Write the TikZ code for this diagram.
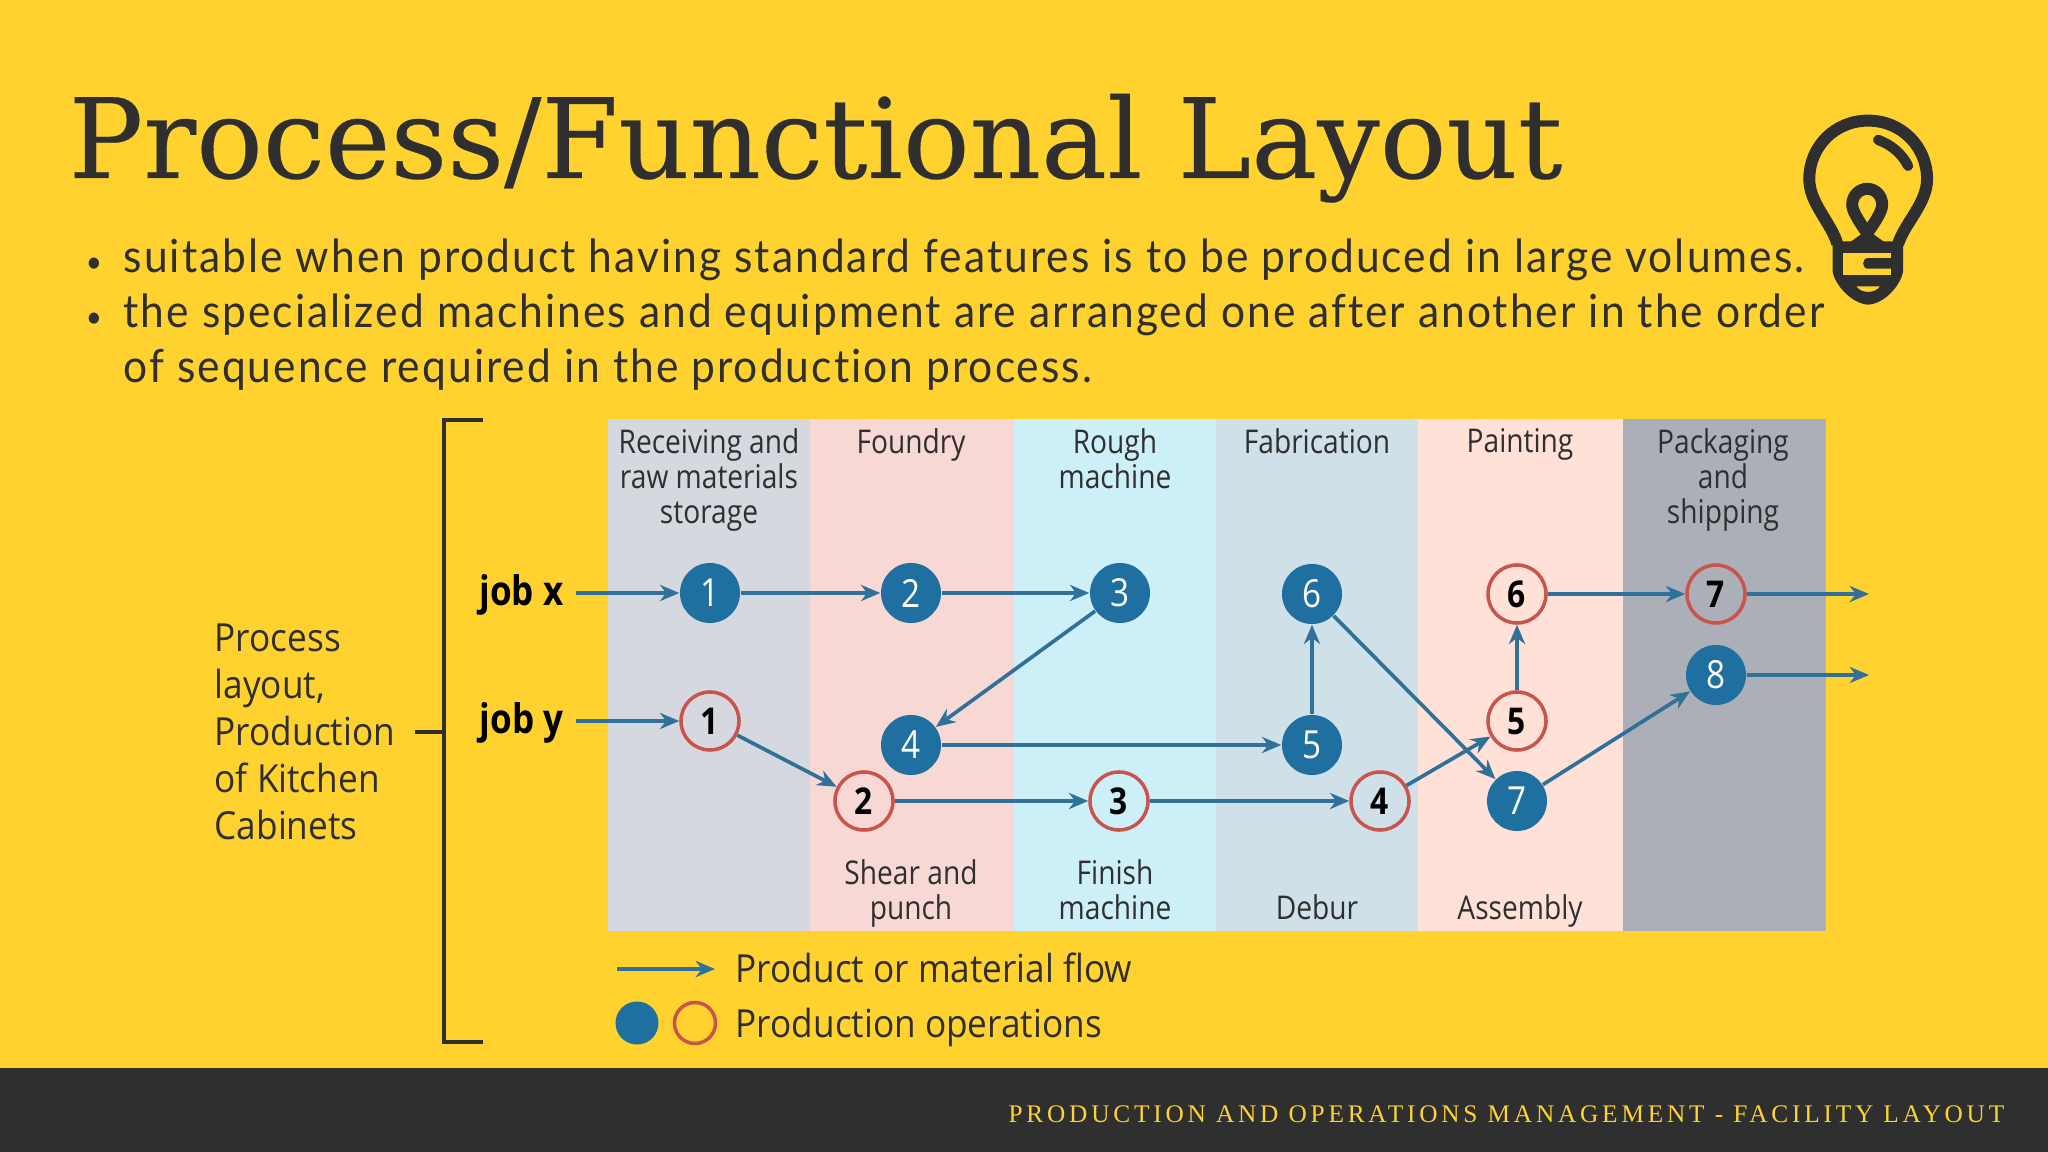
\documentclass[tikz,border=0pt]{standalone}
\usepackage{fontspec}
\usetikzlibrary{arrows.meta}
\setmainfont{Open Sans}
\newfontfamily\titlefont[FakeBold=0.25]{DejaVu Serif}
\newfontfamily\bulletfont[LetterSpace=4.45,FakeStretch=0.93,Ligatures=NoCommon]{Lato}
\newfontfamily\footfont[LetterSpace=15.0]{Liberation Serif}
\newfontfamily\chartfont[FakeStretch=0.86]{Open Sans}
\newfontfamily\sidefont[FakeStretch=0.91]{Open Sans}
\definecolor{slidebg}{HTML}{FFD22F}
\definecolor{slidedark}{HTML}{2F2F2F}
\definecolor{flowblue}{HTML}{2F7199}
\definecolor{opblue}{HTML}{1F70A0}
\definecolor{opred}{HTML}{C9544C}
\definecolor{laneA}{HTML}{D5D8DE}
\definecolor{laneB}{HTML}{F7D8D4}
\definecolor{laneC}{HTML}{CDEFF8}
\definecolor{laneD}{HTML}{CFE0E9}
\definecolor{laneE}{HTML}{FFE1D8}
\definecolor{laneF}{HTML}{ADAFB8}
\tikzset{
	lanelabel/.style={font=\chartfont\fontsize{9.3}{9.95}\selectfont, text=slidedark, align=center, inner sep=0pt, anchor=north},
	sidelabel/.style={font=\sidefont\fontsize{11}{13.4}\selectfont, text=slidedark, align=left, inner sep=0pt},
	joblabel/.style={font=\chartfont\bfseries\fontsize{11.6}{13}\selectfont, text=black, inner sep=3.4pt, anchor=east, text depth=1.5pt},
	opfull/.style={circle, fill=opblue, minimum size=0.6cm, inner sep=0pt, text=white, font=\chartfont\fontsize{11}{12}\selectfont},
	opring/.style={circle, draw=opred, line width=1pt, minimum size=0.58cm, inner sep=0pt, text=black, font=\chartfont\bfseries\fontsize{10.5}{12}\selectfont},
	flow/.style={draw=flowblue, line width=1.05pt, -{Stealth[length=5.5pt,width=4.6pt]}},
	bulbline/.style={draw=slidedark, line width=3.4pt},
	bulletdot/.style={anchor=base, inner sep=0pt, text=slidedark, font=\bulletfont\fontsize{8.5}{10}\selectfont},
	bullettext/.style={anchor=base west, inner sep=0pt, text=slidedark, font=\bulletfont\fontsize{13}{15}\selectfont}
}

\begin{document}
\begin{tikzpicture}[x=0.01cm, y=-0.01cm]
	%%%%% START %%%%%
	\useasboundingbox (0, 0) rectangle (2048, 1152);
	\fill[slidebg] (0, 0) rectangle (2048, 1152);
	\fill[slidedark] (0, 1068) rectangle (2048, 1152);

	\node[anchor=base west, inner sep=0pt, text=slidedark, font=\titlefont\fontsize{31.5}{36}\selectfont] (title) at (68, 178) {Process/Functional Layout};

	% bulb
	\begin{scope}[shift={(1760, 90)}, x=0.003333cm, y=-0.003333cm]
		\draw[bulbline] (232, 462) .. controls (215, 400) and (148, 340) .. (148, 268) .. controls (148, 170) and (225, 92) .. (325, 92) .. controls (425, 92) and (502, 170) .. (502, 268) .. controls (502, 340) and (435, 400) .. (415, 462);
		\draw[bulbline] (322, 430) .. controls (290, 385) and (277, 360) .. (277, 345) .. controls (277, 315) and (300, 297) .. (322, 297) .. controls (345, 297) and (367, 315) .. (367, 345) .. controls (367, 360) and (355, 385) .. (322, 430);
		\fill[slidedark] (270, 458) -- (322, 420) -- (375, 458) -- cycle;
		\fill[slidedark] (218, 455) -- (218, 540) .. controls (218, 575) and (270, 642) .. (325, 645) .. controls (380, 642) and (430, 575) .. (430, 540) -- (430, 455) -- cycle;
		\fill[slidebg] (250, 490) rectangle (395, 555);
		\fill[slidedark] (395, 505) -- (325, 505) .. controls (305, 505) and (305, 537) .. (325, 537) -- (395, 537) -- cycle;
		\fill[slidebg] (290, 590) -- (360, 590) .. controls (345, 612) and (305, 612) .. (290, 590);
		\draw[slidedark, line width=2.9pt, line cap=round] (355, 150) .. controls (395, 165) and (425, 190) .. (445, 228);
	\end{scope}

	% bullets
	\node[bulletdot] (dota) at (94, 273) {•};
	\node[bullettext] (linea) at (123, 273) {suitable when product having standard features is to be produced in large volumes.};
	\node[bulletdot] (dotb) at (94, 328) {•};
	\node[bullettext] (lineb) at (123, 328) {the specialized machines and equipment are arranged one after another in the order};
	\node[bullettext] (linec) at (123, 383) {of sequence required in the production process.};

	% lanes
	\fill[laneA] (608, 419) rectangle (810, 931);
	\fill[laneB] (810, 419) rectangle (1014, 931);
	\fill[laneC] (1014, 419) rectangle (1216, 931);
	\fill[laneD] (1216, 419) rectangle (1418, 931);
	\fill[laneE] (1418, 419) rectangle (1623, 931);
	\fill[laneF] (1623, 419) rectangle (1826, 931);

	% bracket
	\draw[slidedark, line width=0.95pt] (483, 420) -- (444, 420) -- (444, 1042) -- (483, 1042);
	\draw[slidedark, line width=0.95pt] (415, 732) -- (444, 732);

	\node[sidelabel, anchor=north west] (process) at (214, 623) {Process\\layout,\\Production\\of Kitchen\\Cabinets};

	\node[lanelabel] (receiving) at (709, 428) {Receiving and\\raw materials\\storage};
	\node[lanelabel] (foundry) at (911, 428) {Foundry};
	\node[lanelabel] (rough) at (1115, 428) {Rough\\machine};
	\node[lanelabel] (fabrication) at (1317, 428) {Fabrication};
	\node[lanelabel] (painting) at (1520, 428) {Painting};
	\node[lanelabel] (packaging) at (1723, 428) {Packaging\\and\\shipping};
	\node[lanelabel, anchor=south] (shear) at (911, 928) {Shear and\\punch};
	\node[lanelabel, anchor=south] (finish) at (1115, 921) {Finish\\machine};
	\node[lanelabel, anchor=south] (debur) at (1317, 921) {Debur};
	\node[lanelabel, anchor=south] (assembly) at (1520, 928) {Assembly};

	\node[joblabel] (jobx) at (576, 593) {job x};
	\node[joblabel] (joby) at (576, 721) {job y};

	\node[opfull] (xa) at (710, 593) {1};
	\node[opfull] (xb) at (911, 593) {2};
	\node[opfull] (xc) at (1120, 593) {3};
	\node[opfull] (xd) at (911, 745) {4};
	\node[opfull] (xe) at (1312, 745) {5};
	\node[opfull] (xf) at (1312, 594) {6};
	\node[opfull] (xg) at (1517, 801) {7};
	\node[opfull] (xh) at (1716, 675) {8};

	\node[opring] (ya) at (710, 721) {1};
	\node[opring] (yb) at (864, 801) {2};
	\node[opring] (yc) at (1119, 801) {3};
	\node[opring] (yd) at (1380, 801) {4};
	\node[opring] (ye) at (1517, 721) {5};
	\node[opring] (yf) at (1517, 594) {6};
	\node[opring] (yg) at (1716, 594) {7};

	\coordinate (outx) at (1869, 594);
	\coordinate (outy) at (1869, 675);

	\draw[flow] (jobx) -- (xa);
	\draw[flow] (xa) -- (xb);
	\draw[flow] (xb) -- (xc);
	\draw[flow] (xc) -- (xd);
	\draw[flow] (xd) -- (xe);
	\draw[flow] (xe) -- (xf);
	\draw[flow] (xf) -- (xg);
	\draw[flow] (xg) -- (xh);
	\draw[flow] (xh) -- (outy);

	\draw[flow] (joby) -- (ya);
	\draw[flow] (ya) -- (yb);
	\draw[flow] (yb) -- (yc);
	\draw[flow] (yc) -- (yd);
	\draw[flow] (yd) -- (ye);
	\draw[flow] (ye) -- (yf);
	\draw[flow] (yf) -- (yg);
	\draw[flow] (yg) -- (outx);

	% legend
	\coordinate (legfrom) at (617, 969);
	\coordinate (legto) at (715, 969);
	\draw[flow] (legfrom) -- (legto);
	\node[circle, fill=opblue, minimum size=0.43cm, inner sep=0pt] (legfull) at (637, 1023) {};
	\node[circle, draw=opred, line width=1pt, minimum size=0.41cm, inner sep=0pt] (legring) at (695, 1023) {};
	\node[sidelabel, anchor=base west] (legflow) at (735, 982) {Product or material flow};
	\node[sidelabel, anchor=base west] (legop) at (735, 1037) {Production operations};

	\node[anchor=base east, inner sep=0pt, text=slidebg, font=\footfont\fontsize{7.2}{9}\selectfont] (foot) at (2005, 1122) {PRODUCTION AND OPERATIONS MANAGEMENT - FACILITY LAYOUT};
	%%%%% END %%%%%
\end{tikzpicture}
\end{document}
